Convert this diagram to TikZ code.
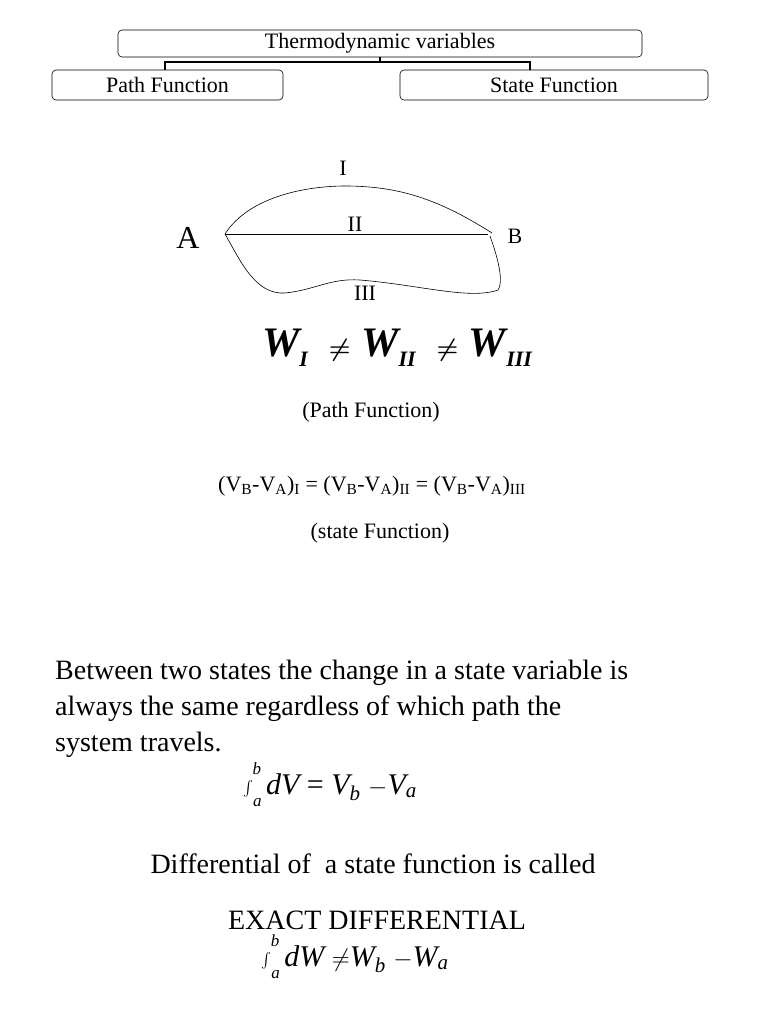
\documentclass[tikz,border=0pt]{standalone}
\usepackage{fontspec}
\usepackage{graphicx}
\setmainfont{Liberation Serif}
\newcommand{\bigint}[2]{\raisebox{-0.3ex}{\scalebox{1.5}{$\int$}}\raisebox{-0.9ex}{\fontsize{17}{17}\selectfont\itshape #1}\hspace{-0.3em}\raisebox{1.4ex}{\fontsize{17}{17}\selectfont\itshape #2}\,}
\begin{document}
\begin{tikzpicture}[x=1pt,y=-1pt,
  box/.style={draw,rounded corners=4pt,line width=0.6pt},
  lbl/.style={font=\fontsize{22}{26}\selectfont},
  big/.style={font=\fontsize{28}{36}\selectfont}]
\useasboundingbox (0,0) rectangle (768,1024);
\node[box,minimum width=524pt,minimum height=27pt,lbl] (tv) at (380,43.5) {Thermodynamic variables};
\node[box,minimum width=231pt,minimum height=30pt,lbl] (pf) at (167.5,85) {Path Function};
\node[box,minimum width=308pt,minimum height=30pt,lbl] (sf) at (554,85) {State Function};
\coordinate (j) at (380,62);
\draw[line width=1.2pt] (tv.south) -- (j) -| (165,70);
\draw[line width=1.2pt] (j) -| (530,70);
\coordinate (A) at (225,234);
\coordinate (B) at (492,233);
\draw[line width=0.6pt] (A) .. controls (250,195) and (310,186) .. (345,186) .. controls (400,186) and (440,200) .. (B);
\draw[line width=0.6pt] (A) -- (488,234);
\draw[line width=0.6pt] (A) .. controls (240,260) and (255,295) .. (285,293) .. controls (315,290) and (330,278) .. (360,280) .. controls (420,285) and (470,300) .. (498,290) .. controls (505,280) and (495,250) .. (490,236);
\node[font=\fontsize{32}{36}\selectfont] (a) at (188,238) {A};
\node[lbl] (b) at (515,236) {B};
\node[lbl] (i) at (343,168) {I};
\node[lbl] (ii) at (355,224) {II};
\node[lbl] (iii) at (365,293) {III};
\node[font=\fontsize{42}{44}\selectfont\bfseries\itshape] (w) at (397,348) {W\raisebox{-0.5ex}{\fontsize{22}{22}\selectfont I}\ \ {\boldmath$\neq$} W\raisebox{-0.5ex}{\fontsize{22}{22}\selectfont II}\ \ {\boldmath$\neq$} W\raisebox{-0.5ex}{\fontsize{22}{22}\selectfont III}};
\node[lbl] (p1) at (371,412) {(Path Function)};
\node[lbl] (v) at (372,486) {(V\textsubscript{B}-V\textsubscript{A})\textsubscript{I} = (V\textsubscript{B}-V\textsubscript{A})\textsubscript{II} = (V\textsubscript{B}-V\textsubscript{A})\textsubscript{III}};
\node[lbl] (s1) at (380,533) {(state Function)};
\node[big,anchor=north west,align=left,inner sep=0pt] (para) at (55,660) {Between two states the change in a state variable is\\always the same regardless of which path the\\system travels.};
\node[font=\fontsize{30}{34}\selectfont\itshape] (int1) at (330,785) {\bigint{a}{b}dV {\upshape =} V\textsubscript{\itshape b} {\upshape$-$}V\textsubscript{\itshape a}};
\node[big] (d) at (373,864) {Differential of\ \ a state function is called};
\node[big] (e) at (377,920) {EXACT DIFFERENTIAL};
\node[font=\fontsize{30}{34}\selectfont\itshape] (int2) at (355,957) {\bigint{a}{b}dW {\upshape$\neq$}W\textsubscript{\itshape b} {\upshape$-$}W\textsubscript{\itshape a}};
\end{tikzpicture}
\end{document}
